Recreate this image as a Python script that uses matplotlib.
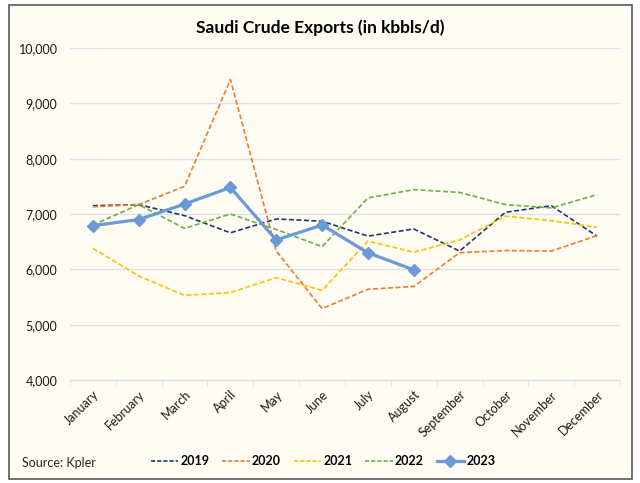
import matplotlib.pyplot as plt
from matplotlib.patches import Rectangle
from matplotlib.ticker import FuncFormatter

months = ['January', 'February', 'March', 'April', 'May', 'June', 'July',
          'August', 'September', 'October', 'November', 'December']

y2019 = [7150, 7170, 6970, 6660, 6910, 6870, 6600, 6730, 6330, 7030, 7150, 6600]
y2020 = [7130, 7170, 7500, 9430, 6330, 5290, 5640, 5690, 6300, 6340, 6330, 6610]
y2021 = [6380, 5880, 5530, 5580, 5850, 5620, 6510, 6310, 6530, 6960, 6880, 6760]
y2022 = [6800, 7170, 6740, 7000, 6720, 6410, 7290, 7440, 7390, 7170, 7110, 7350]
y2023 = [6790, 6900, 7180, 7480, 6530, 6800, 6300, 5990]

plt.rcParams['font.family'] = ['Lato', 'DejaVu Sans']
bg = '#FEFCF3'

fig = plt.figure(figsize=(6.4, 4.83), dpi=100, facecolor='white')
# chart frame
fig.patches.append(Rectangle((9 / 640, 1 - 479 / 483), 623 / 640, 474 / 483,
                             transform=fig.transFigure, facecolor=bg,
                             edgecolor='#595959', linewidth=1.2, zorder=-1))

ax = fig.add_axes([70 / 640, 1 - 380 / 483, 550 / 640, 332 / 483])
ax.set_facecolor(bg)

dash = (0, (3, 1.5))
x = list(range(len(months)))
ax.plot(x, y2019, color='#1F3864', lw=1.2, ls=dash, label='2019')
ax.plot(x, y2020, color='#ED7D31', lw=1.2, ls=dash, label='2020')
ax.plot(x, y2021, color='#FFC000', lw=1.2, ls=dash, label='2021')
ax.plot(x, y2022, color='#70AD47', lw=1.2, ls=dash, label='2022')
ax.plot(x[:len(y2023)], y2023, color='#6A9BD6', lw=2.3, marker='D',
        markersize=6, label='2023')

ax.set_xlim(-0.5, 11.5)
ax.set_ylim(4000, 10000)
ax.set_yticks(range(4000, 10001, 1000))
ax.yaxis.set_major_formatter(FuncFormatter(lambda v, p: f'{int(v):,}'))
ax.set_xticks(x)
ax.set_xticklabels(months, rotation=45, ha='right', rotation_mode='anchor',
                   fontsize=9, color='#1a1a1a')
ax.set_xticks([i - 0.5 for i in range(13)], minor=True)
ax.tick_params(axis='x', which='major', length=0, pad=6)
ax.tick_params(axis='x', which='minor', length=4, color='#D9DEE6')
ax.tick_params(axis='y', length=0, labelsize=9, pad=9, labelcolor='#1a1a1a')
ax.grid(axis='y', color='#DDE2EA', lw=1)
ax.set_axisbelow(True)
for s in ['top', 'right', 'left']:
    ax.spines[s].set_visible(False)
ax.spines['bottom'].set_color('#D9DEE6')

fig.text(0.5, 1 - 28 / 483, 'Saudi Crude Exports (in kbbls/d)', ha='center',
         va='center', fontsize=12.5, fontweight='bold')
fig.text(22 / 640, 1 - 463 / 483, 'Source: Kpler', ha='left', va='center',
         fontsize=9, color='#262626')

leg = fig.legend(loc='center', bbox_to_anchor=(323 / 640, 1 - 461 / 483), ncol=5,
                 frameon=False, handlelength=2.2, columnspacing=1.0,
                 handletextpad=0.2, prop={'weight': 'bold', 'size': 9})
for h in leg.get_lines()[:4]:
    h.set_dashes((2.5, 1.2))

fig.savefig('out.png', dpi=100, facecolor='white')
